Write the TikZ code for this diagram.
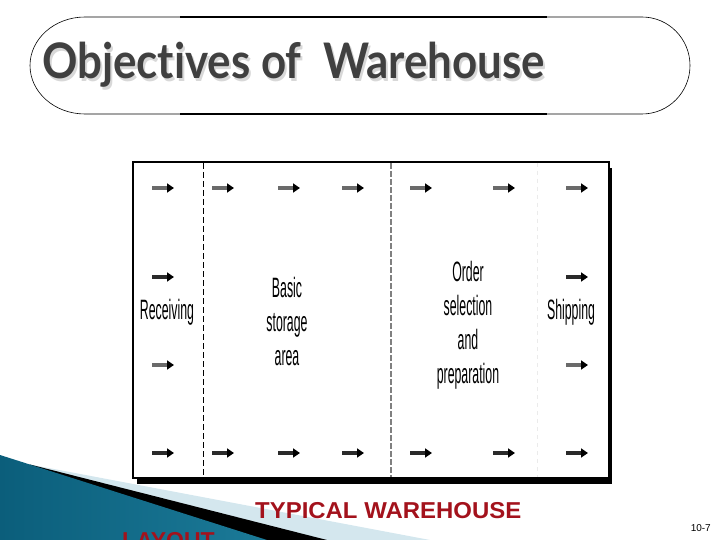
\documentclass[tikz,border=0pt]{standalone}
\usepackage{fontspec}
\setmainfont{Liberation Sans}
\newfontfamily\titlefont{Lato}[Ligatures=NoCommon]
\usepackage{graphicx}
\usetikzlibrary{arrows.meta}

\definecolor{titlegray}{HTML}{404040}
\definecolor{shadowgray}{HTML}{D8D8D8}
\definecolor{capred}{HTML}{A3121C}
\definecolor{tealdark}{HTML}{0B5E7B}
\definecolor{teallight}{HTML}{4FB6D6}
\definecolor{tealend}{HTML}{1B7A98}
\definecolor{paleblue}{HTML}{D4E7EE}
\definecolor{flowgray}{HTML}{6A6A6A}
\definecolor{flowdark}{HTML}{2A2A2A}

\newcommand\narrowtext[1]{\scalebox{.44}[1]{#1}}

\begin{document}
\begin{tikzpicture}[x=1bp,y=-1bp,
            flow/.style={line width=3.5bp,draw=flowgray,-{Triangle[length=7bp,width=9bp,color=black]}},
            flowdk/.style={flow,draw=flowdark},
            area/.style={font=\fontsize{28bp}{34bp}\selectfont,align=center,inner sep=0pt},
            caption/.style={font=\fontsize{23bp}{28bp}\selectfont\bfseries,text=capred,inner sep=0pt}
          ]
          \useasboundingbox (0,0) rectangle (720,540);
          \clip (0,0) rectangle (720,540);

          %corner decoration
          \fill[paleblue] (30,464.5) -- (430,540) -- (30,540) -- cycle;
          \fill[black] (30,464.5) -- (327,540) -- (30,540) -- cycle;
          \shade[left color=tealdark,middle color=teallight,right color=tealend]
            (0,455) -- (267,540) -- (0,540) -- cycle;

          %title
          \draw[line width=.6bp] (85,17) -- (642,17)
            arc[start angle=90,end angle=-90,x radius=48bp,y radius=48.5bp]
            -- (85,114)
            arc[start angle=270,end angle=90,x radius=55bp,y radius=48.5bp] -- cycle;
          \draw[line width=2bp] (180,17) -- (547,17);
          \draw[line width=2bp] (180,114) -- (547,114);
          \node[anchor=base west,inner sep=0pt,text=shadowgray,font=\titlefont\fontsize{49bp}{58bp}\selectfont\bfseries]
            (titleshadow) at (44,81.5) {\resizebox{503bp}{\height}{Objectives of\ \ Warehouse}};
          \node[anchor=base west,inner sep=0pt,text=titlegray,font=\titlefont\fontsize{49bp}{58bp}\selectfont\bfseries]
            (title) at (42,79) {\resizebox{503bp}{\height}{Objectives of\ \ Warehouse}};

          %layout box
          \fill[black] (137,168) rectangle (612,484);
          \filldraw[fill=white,draw=black,line width=2bp] (133,162) rectangle (609,478);
          \draw[dash pattern=on 6bp off 3bp,line width=1bp] (203,163) -- (203,477);
          \draw[dash pattern=on 6bp off 2bp,line width=2bp,draw=gray] (391,163) -- (391,477);
          \draw[dash pattern=on 4bp off 4bp,line width=1bp,draw=black!8] (537,163) -- (537,477);

          %flow arrows
          \foreach \x in {152,212,278,342,410,493,566}{
            \draw[flow] (\x,188) -- ++(22,0);
            \draw[flowdk] (\x,453) -- ++(22,0);
          }
          \foreach \x in {152,566}{
            \draw[flowdk] (\x,277) -- ++(22,0);
            \draw[flow] (\x,365) -- ++(22,0);
          }

          %areas
          \node[area] (recv) at (167,312) {\narrowtext{Receiving}};
          \node[area] (store) at (287,321) {\narrowtext{Basic}\\\narrowtext{storage}\\\narrowtext{area}};
          \node[area] (order) at (468,325) {\narrowtext{Order}\\\narrowtext{selection}\\\narrowtext{and}\\\narrowtext{preparation}};
          \node[area] (ship) at (571,312) {\narrowtext{Shipping}};

          %captions
          \node[caption,anchor=base west] (typical) at (255,518) {\resizebox{266bp}{\height}{TYPICAL WAREHOUSE}};
          \node[caption,anchor=base west] (layout) at (122,548) {LAYOUT};
          \node[anchor=base east,inner sep=0pt,font=\fontsize{10bp}{12bp}\selectfont] (pageno) at (711,531) {10-7};
\end{tikzpicture}
\end{document}
